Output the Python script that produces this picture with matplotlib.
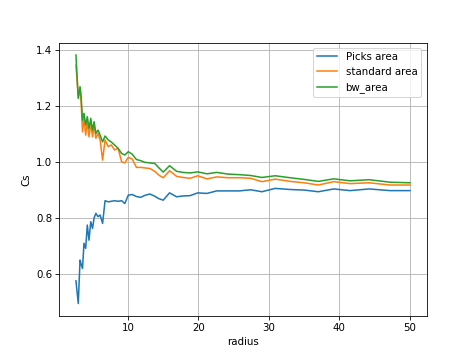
import matplotlib
matplotlib.use("Agg")
import matplotlib.pyplot as plt

# ------------------- DATA -------------------

radius = [2.62, 2.95, 3.2, 3.35, 3.55, 3.76, 4.0, 4.23, 4.47, 4.72, 4.97,
          5.2, 5.45, 5.75, 6.05, 6.4, 6.75, 7.2, 7.65, 8.1, 8.6,
          9.1, 9.55, 10.05, 10.6, 11.2, 11.8, 12.4, 13.1, 13.8, 14.4,
          15.0, 15.9, 16.9, 17.8, 18.8, 19.9, 21.2, 22.6, 24.2, 25.8,
          27.4, 29.0, 30.9, 33.0, 35.0, 37.0, 39.2, 41.5, 44.2, 47.2, 50.0]

picks_area = [0.575, 0.494, 0.649, 0.635, 0.619, 0.709, 0.691, 0.774, 0.720, 0.786, 0.762,
              0.800, 0.816, 0.804, 0.810, 0.780, 0.861, 0.857, 0.859, 0.861, 0.859,
              0.861, 0.851, 0.881, 0.883, 0.876, 0.873, 0.880, 0.885, 0.877, 0.868,
              0.863, 0.889, 0.875, 0.878, 0.879, 0.889, 0.887, 0.896, 0.896, 0.896,
              0.900, 0.893, 0.905, 0.901, 0.899, 0.893, 0.903, 0.897, 0.903, 0.897, 0.897]

standard_area = [1.345, 1.230, 1.262, 1.215, 1.107, 1.155, 1.095, 1.143, 1.089, 1.137, 1.089,
                 1.131, 1.084, 1.101, 1.078, 1.006, 1.078, 1.054, 1.060, 1.042, 1.048,
                 1.000, 0.996, 1.016, 1.010, 0.980, 0.980, 0.978, 0.976, 0.966, 0.952,
                 0.943, 0.968, 0.948, 0.944, 0.941, 0.950, 0.939, 0.946, 0.943, 0.943,
                 0.941, 0.929, 0.938, 0.930, 0.925, 0.917, 0.929, 0.922, 0.925, 0.917, 0.917]

bw_area = [1.381, 1.226, 1.268, 1.235, 1.149, 1.173, 1.131, 1.161, 1.119, 1.155, 1.113,
           1.143, 1.101, 1.113, 1.095, 1.071, 1.092, 1.078, 1.070, 1.060, 1.048,
           1.030, 1.024, 1.036, 1.027, 1.008, 1.004, 0.998, 0.996, 0.994, 0.978,
           0.963, 0.986, 0.966, 0.962, 0.960, 0.964, 0.957, 0.962, 0.956, 0.954,
           0.951, 0.944, 0.950, 0.943, 0.937, 0.930, 0.939, 0.932, 0.936, 0.927, 0.925]

# ------------------- PLOT -------------------

plt.figure(figsize=(474 / 74, 355 / 74), dpi=74)
plt.plot(radius, picks_area, label="Picks area")
plt.plot(radius, standard_area, label="standard area")
plt.plot(radius, bw_area, label="bw_area")

plt.xlabel("radius")
plt.ylabel("Cs")
plt.grid(True)
plt.legend(loc="upper right")
plt.savefig("out.png", dpi=74)
